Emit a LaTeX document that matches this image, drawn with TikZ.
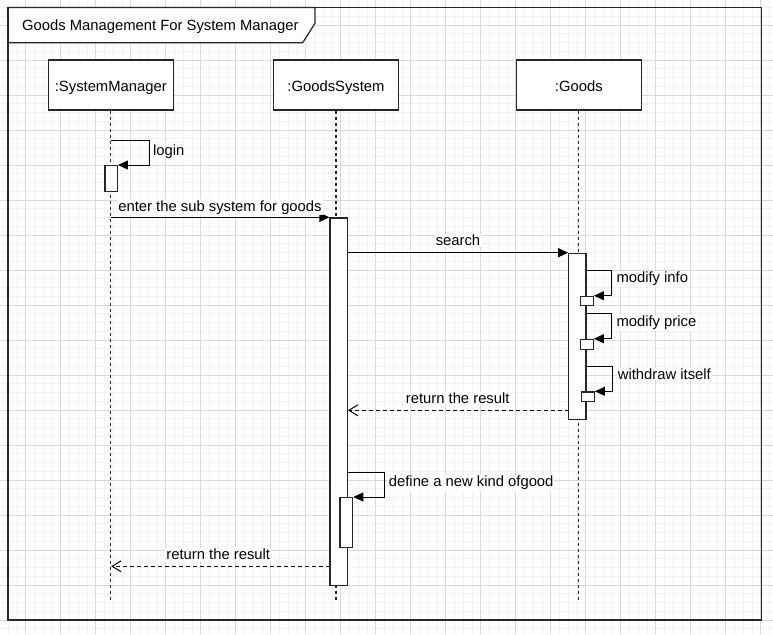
\documentclass[tikz,border=0pt]{standalone}
\usepackage{fontspec}
\setmainfont{Liberation Sans}
\usetikzlibrary{arrows.meta, positioning, calc}

\newcommand{\seqfont}{\fontsize{14.8pt}{17pt}\selectfont}

\tikzset{
	obj/.style={draw=black!85, fill=white, line width=1.3pt, minimum width=125pt,
		minimum height=50pt, text height=12.5pt, text depth=0pt, inner sep=0pt},
	act/.style={draw=black!85, fill=white, line width=1.2pt, inner sep=0pt, anchor=north},
	msg/.style={draw=black, line width=1pt, -{Triangle[length=10pt,width=9pt]}},
	ret/.style={draw=black, line width=1pt, dash pattern=on 4pt off 3pt,
		-{Straight Barb[length=9pt,width=11pt]}},
	lifeline/.style={draw=black!85, line width=1.1pt, dash pattern=on 3pt off 3pt},
	lbl/.style={fill=white, inner sep=1pt},
	gridminor/.style={draw=black!5, line width=0.6pt},
	gridmajor/.style={draw=black!15, line width=0.6pt},
}

\begin{document}
\begin{tikzpicture}[x=1pt, y=-1pt, every node/.style={font=\seqfont}]
			\fill[white] (0,0) rectangle (773,634);
			\useasboundingbox (0,0) rectangle (773,634);
			
			% background grid
			\foreach \k in {0,...,87} \draw[gridminor] (8.2+8.75*\k,0) -- (8.2+8.75*\k,634);
			\foreach \k in {0,...,71} \draw[gridminor] (0,7.5+8.75*\k) -- (773,7.5+8.75*\k);
			\foreach \k in {2,6,...,86} \draw[gridmajor] (8.2+8.75*\k,0) -- (8.2+8.75*\k,634);
			\foreach \k in {2,6,...,70} \draw[gridmajor] (0,7.5+8.75*\k) -- (773,7.5+8.75*\k);
			
			% frame and title tab
			\draw[draw=black!85, line width=1.5pt] (8.2,7.5) rectangle (761.5,620);
			\draw[draw=black!85, fill=white, line width=1.2pt] (8.2,7.5) -- (315,7.5) -- (315,23.3)
				-- (302.7,42.7) -- (8.2,42.7) -- cycle;
			\node[anchor=base west, inner sep=0pt] (title) at (22,30.7) {Goods Management For System Manager};
			
			% objects
			\node[obj] (sm) at (110.8,85) {:SystemManager};
			\node[obj] (gs) at (336,85) {:GoodsSystem};
			\node[obj] (gd) at (578.8,85) {:Goods};
			
			% lifelines
			\coordinate (smend) at (110.8,600.5);
			\coordinate (gsend) at (336,600.5);
			\coordinate (gdend) at (578.8,600.5);
			\draw[lifeline] (sm.south) -- (smend);
			\draw[lifeline] (gs.south) -- (gsend);
			\draw[lifeline] (gd.south) -- (gdend);
			
			% activations
			\node[act, minimum width=12.3pt, minimum height=26pt] (smact) at (111.2,165) {};
			\node[act, minimum width=17.3pt, minimum height=367.7pt] (gsact) at (338.7,217.3) {};
			\node[act, minimum width=17.3pt, minimum height=166pt] (gdact) at (577.4,252.7) {};
			\node[act, minimum width=12.6pt, minimum height=9.3pt] (miact) at (587,295.7) {};
			\node[act, minimum width=12.6pt, minimum height=10pt] (mpact) at (587,338.7) {};
			\node[act, minimum width=13pt, minimum height=9.7pt] (wdact) at (587.8,391.3) {};
			\node[act, minimum width=12.7pt, minimum height=50pt] (nkact) at (346.3,497) {};
			
			% login
			\coordinate (loginfrom) at (110.8,140);
			\draw[msg] (loginfrom) -- ++(38.2,0) |- (smact.north east);
			\node[lbl, anchor=base west] (loginlbl) at (152,155) {login};
			
			% enter sub system
			\draw[msg] (smact |- gsact.north west) -- (gsact.north west);
			\node[lbl, anchor=base] (enterlbl) at (220,211) {enter the sub system for goods};
			
			% search
			\draw[msg] (gsact.east |- gdact.north) -- (gdact.north west);
			\node[lbl, anchor=base] (searchlbl) at (458,245.7) {search};
			
			% self calls on goods
			\coordinate (mifrom) at (586,270);
			\draw[msg] (mifrom) -- ++(25.3,0) |- (miact.north east);
			\node[lbl, anchor=base west] (milbl) at (615.3,282.7) {modify info};
			\coordinate (mpfrom) at (586,313.3);
			\draw[msg] (mpfrom) -- ++(25.3,0) |- (mpact.north east);
			\node[lbl, anchor=base west] (mplbl) at (615.3,326.7) {modify price};
			\coordinate (wdfrom) at (586,366);
			\draw[msg] (wdfrom) -- ++(26.3,0) |- (wdact.north east);
			\node[lbl, anchor=base west] (wdlbl) at (616.7,379.3) {withdraw itself};
			
			% return to goods system
			\coordinate (r1from) at (568.7,410.3);
			\draw[ret] (r1from) -- (gsact.east |- r1from);
			\node[lbl, anchor=base] (r1lbl) at (457.7,403.7) {return the result};
			
			% define new kind
			\coordinate (nkfrom) at (347.3,472);
			\draw[msg] (nkfrom) -- ++(36.7,0) |- (nkact.north east);
			\node[lbl, anchor=base west] (nklbl) at (387.7,486.7) {define a new kind ofgood};
			
			% return to system manager
			\coordinate (r2from) at (330,566.3);
			\draw[ret] (r2from) -- (smact |- r2from);
			\node[lbl, anchor=base] (r2lbl) at (218.3,559.7) {return the result};
		\end{tikzpicture}
\end{document}
